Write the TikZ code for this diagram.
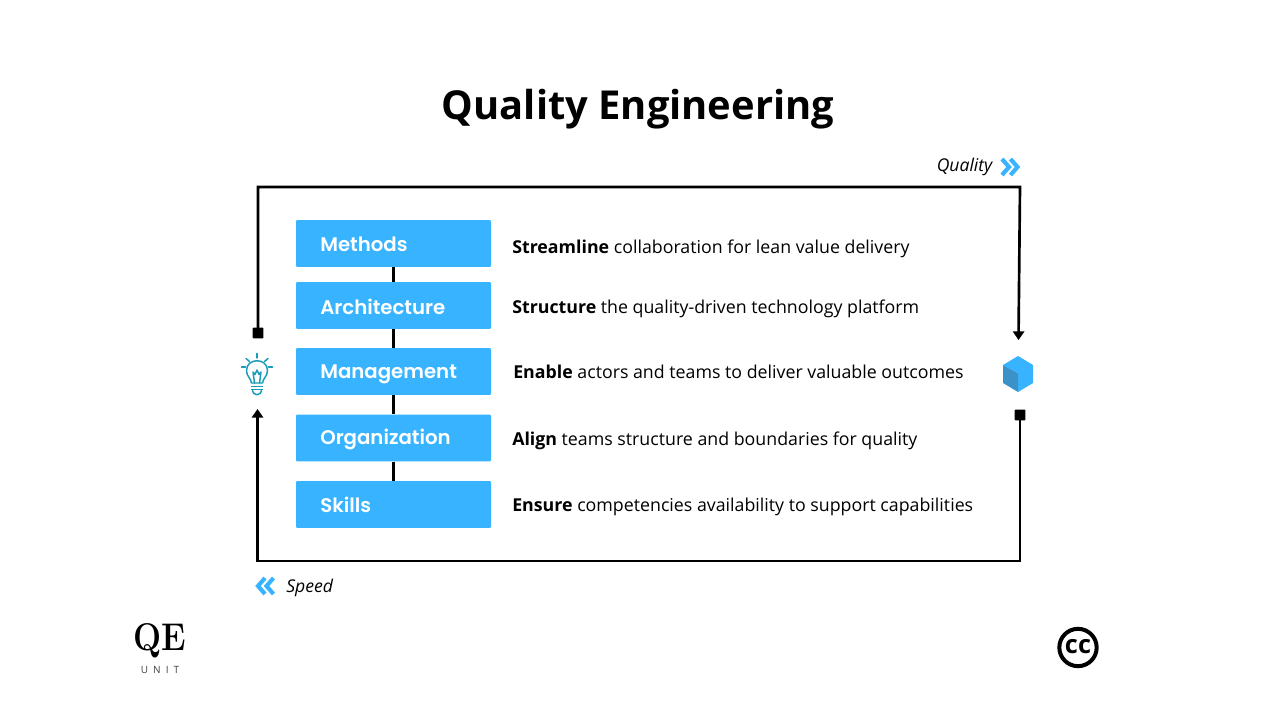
\documentclass[tikz,border=0pt]{standalone}
\usepackage{fontspec}
\setmainfont{Open Sans}
\newfontfamily\boxfont{Poppins}[UprightFont=* SemiBold]
\newfontfamily\logofont{Latin Modern Roman}
\usetikzlibrary{arrows.meta}
\definecolor{qblue}{HTML}{38B3FF}
\definecolor{qdark}{HTML}{3A92C8}
\definecolor{qteal}{HTML}{1A9BB8}
\tikzset{
  layerbox/.style={fill=qblue,minimum width=146.25pt,minimum height=35pt,inner sep=0pt,rounded corners=0.8pt},
  layerlabel/.style={anchor=base west,text=white,inner sep=0,font=\boxfont\fontsize{14.8}{18}\selectfont},
  desc/.style={anchor=base west,inner sep=0,font=\fontsize{13.33}{17}\selectfont},
  side/.style={anchor=base west,inner sep=0,font=\itshape\fontsize{13.2}{16}\selectfont},
  wire/.style={draw=black,line width=2pt},
  flow/.style={wire,-{Triangle[length=6.5pt,width=8.5pt]}},
  stub/.style={fill=black,minimum size=8pt,inner sep=0,rounded corners=0.5pt},
  chev/.style={draw=qblue,line width=3.1pt,miter limit=10},
  bulb/.style={draw=qteal,line width=1.1pt,line cap=round,line join=round}
}
\begin{document}
\begin{tikzpicture}[x=0.75pt,y=-0.75pt]
\useasboundingbox (0,0) rectangle (1279,720);
\fill[white] (0,0) rectangle (1279,720);
\node[inner sep=0,font=\bfseries\fontsize{29.9}{36}\selectfont] (title) at (638,109) {Quality Engineering};
% layer boxes
\node[layerbox] (methods) at (393.5,243.5) {};
\node[layerbox] (arch) at (393.5,305.5) {};
\node[layerbox] (mgmt) at (393.5,371.5) {};
\node[layerbox] (org) at (393.5,438) {};
\node[layerbox] (skills) at (393.5,504.5) {};
\foreach \a/\b in {methods/arch,arch/mgmt,mgmt/org,org/skills}
  \draw[wire] (\a.south) -- (\b.north);
\node[layerlabel] (lm) at (320,252) {Methods};
\node[layerlabel] (la) at (320,314.5) {Architecture};
\node[layerlabel] (lg) at (320,379) {Management};
\node[layerlabel] (lo) at (320,445) {Organization};
\node[layerlabel] (ls) at (320,512.5) {Skills};
% descriptions
\node[desc] (d1) at (512,253.5) {\textbf{Streamline} collaboration for lean value delivery};
\node[desc] (d2) at (512,314) {\textbf{Structure} the quality-driven technology platform};
\node[desc] (d3) at (513,378.5) {\textbf{Enable} actors and teams to deliver valuable outcomes};
\node[desc] (d4) at (512,445.5) {\textbf{Align} teams structure and boundaries for quality};
\node[desc] (d5) at (512,511.5) {\textbf{Ensure} competencies availability to support capabilities};
% feedback frame
\node[stub] (s1) at (258,333) {};
\node[stub] (s2) at (1020,415) {};
\coordinate (t1) at (1018.5,340);
\coordinate (t2) at (257.5,409);
\draw[flow] (s1.center) -- (258,187) -- (1020,187) -- (t1);
\draw[flow] (s2.center) -- (1020,561) -- (257.5,561) -- (t2);
% side labels
\node[side] (q) at (936.5,172) {Quality};
\node[side] (sp) at (286,592) {Speed};
\draw[chev] (1002,159) -- (1009,167) -- (1002,175);
\draw[chev] (1010.5,159) -- (1017.5,167) -- (1010.5,175);
\draw[chev] (265,578) -- (258,586) -- (265,594);
\draw[chev] (273.5,578) -- (266.5,586) -- (273.5,594);
% cube
\fill[qblue] (1018,356) -- (1033,365) -- (1033,383) -- (1018,392) -- (1018,373.5) -- (1003,365) -- cycle;
\fill[qdark] (1003,365) -- (1018,373.5) -- (1018,392) -- (1003,383) -- cycle;
% bulb
\begin{scope}[bulb]
\draw (257,353.5) -- (257,358);
\draw (246,358.5) -- (249.5,361.5);
\draw (268,358.5) -- (264.5,361.5);
\draw (241.5,367) -- (245.5,367);
\draw (268.5,367) -- (272.5,367);
\draw (251.5,383) .. controls (251,378) and (246.5,376.5) .. (246.5,370.5)
   .. controls (246.5,357.5) and (267.5,357.5) .. (267.5,370.5)
   .. controls (267.5,376.5) and (263,378) .. (262.5,383) -- cycle;
\draw (254.5,383) -- (253,372) -- (255,374.5) -- (257,370) -- (259,374.5) -- (261,372) -- (259.5,383);
\draw (251.5,386.5) -- (262.5,386.5);
\draw (251.5,389.5) -- (262.5,389.5);
\draw (252.5,389.5) .. controls (252.5,396.5) and (261.5,396.5) .. (261.5,389.5);
\end{scope}
% logo
\node[inner sep=0,xscale=0.86,font=\logofont\bfseries\fontsize{29}{32}\selectfont] (qe) at (160,641) {QE};
\node[inner sep=0,text=black!75,font=\fontsize{7.5}{9}\selectfont] (unit) at (160,670) {U\hspace{3.8pt}N\hspace{3.8pt}I\hspace{3.8pt}T};
% cc
\node[circle,draw=black,line width=3pt,minimum size=28pt,inner sep=0] (cc) at (1078,647.5) {};
\node[inner sep=0,font=\bfseries\fontsize{19}{20}\selectfont] (cct) at (1078,647) {cc};
\end{tikzpicture}
\end{document}
